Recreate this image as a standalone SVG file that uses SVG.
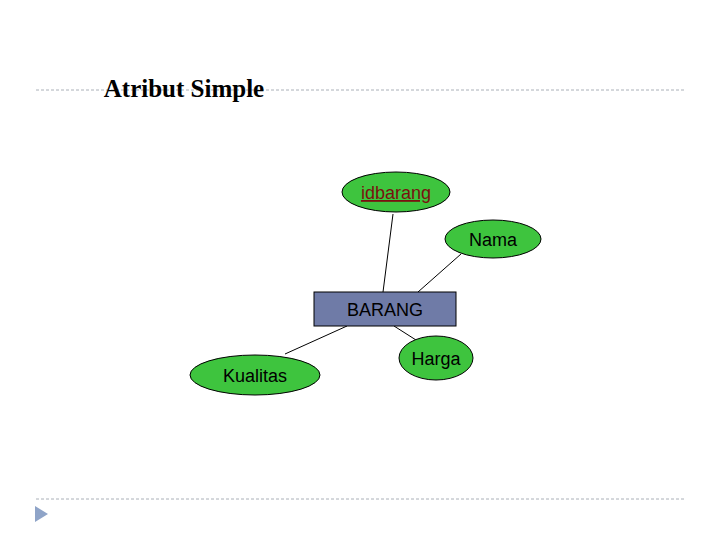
<svg xmlns="http://www.w3.org/2000/svg" width="720" height="540" viewBox="0 0 720 540">
<style>
.attr{fill:#3ec43e;stroke:#000;stroke-width:1}
.t{font-family:"Liberation Sans",Arial,sans-serif;font-size:18px;text-anchor:middle}
.sep{stroke:#aab0b8;stroke-width:1;stroke-dasharray:3,2}
</style>
<rect width="720" height="540" fill="#fff"/>
<line class="sep" x1="36" y1="90" x2="686" y2="90"/>
<line class="sep" x1="36" y1="499" x2="686" y2="499"/>
<polygon points="35,506 48,514 35,522" fill="#8fa4c8"/>
<text x="184" y="97" font-family="Liberation Serif,serif" font-size="25" font-weight="bold" text-anchor="middle">Atribut Simple</text>
<g id="connectors" stroke="#000" stroke-width="1">
<line x1="393" y1="214" x2="383" y2="292"/>
<line x1="461" y1="254" x2="418" y2="292"/>
<line x1="285" y1="354" x2="347" y2="326"/>
<line x1="416" y1="340" x2="394" y2="326"/>
</g>
<g id="barang"><rect x="314" y="292" width="142" height="34" fill="#6f7ba7" stroke="#000"/><text class="t" x="385" y="316" font-size="17">BARANG</text></g>
<g id="idbarang"><ellipse class="attr" cx="396" cy="192" rx="54" ry="20"/><text class="t" x="396" y="199" fill="#7a1010" text-decoration="underline">idbarang</text></g>
<g id="nama"><ellipse class="attr" cx="493" cy="239" rx="48" ry="19"/><text class="t" x="493" y="246">Nama</text></g>
<g id="kualitas"><ellipse class="attr" cx="255" cy="375" rx="65" ry="20"/><text class="t" x="255" y="382">Kualitas</text></g>
<g id="harga"><ellipse class="attr" cx="436" cy="358" rx="37" ry="22"/><text class="t" x="436" y="365">Harga</text></g>
</svg>
